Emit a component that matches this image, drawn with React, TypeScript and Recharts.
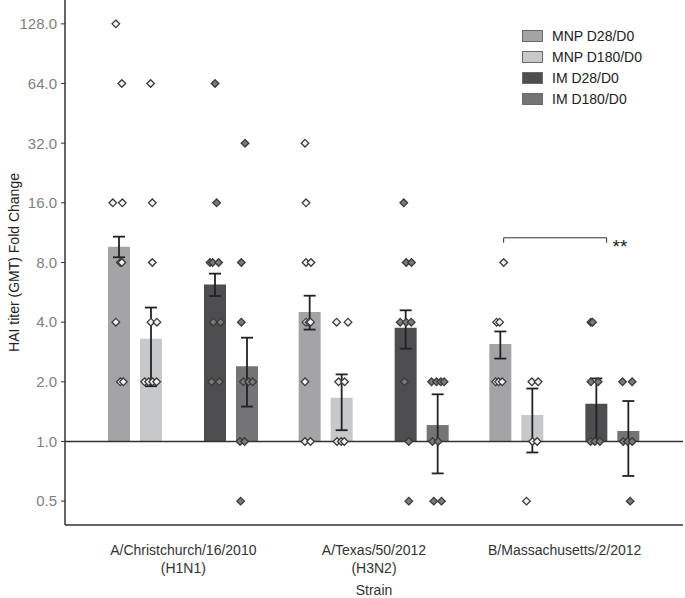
import {
  Bar,
  ComposedChart,
  ErrorBar,
  Legend,
  ReferenceDot,
  ReferenceLine,
  Scatter,
  XAxis,
  YAxis,
} from 'recharts';

// '|' splits a tick label over two lines
const strains = ['A/Christchurch/16/2010|(H1N1)', 'A/Texas/50/2012|(H3N2)', 'B/Massachusetts/2/2012'];
const yTicks = [0.5, 1, 2, 4, 8, 16, 32, 64, 128];

// GMT fold change per strain, with lower / upper end of the error bar
const mnpD28 = [9.6, 4.5, 3.1];
const mnpD28Lo = [8.5, 3.67, 2.62];
const mnpD28Hi = [10.8, 5.44, 3.59];

const mnpD180 = [3.3, 1.66, 1.36];
const mnpD180Lo = [1.9, 1.14, 0.88];
const mnpD180Hi = [4.74, 2.18, 1.85];

const imD28 = [6.2, 3.75, 1.55];
const imD28Lo = [5.42, 2.94, 1.0];
const imD28Hi = [7.03, 4.59, 2.08];

const imD180 = [2.4, 1.21, 1.13];
const imD180Lo = [1.5, 0.69, 0.67];
const imD180Hi = [3.34, 1.73, 1.6];

// individual subjects: [fold change, jitter px from the bar centre]
const mnpD28Pts = [
  [[128, -3.5], [64, 2.5], [16, -6.5], [16, 3], [8, 1], [8, 2.5], [4, -3.5], [2, 1], [2, 4]],
  [[32, -5], [16, -4], [8, -4], [8, 1], [4, -4], [4, -1], [4, 0.5], [2, -5], [1, -5], [1, 0.5]],
  [[8, 3], [4, -4], [4, -1], [2, -5], [2, -2], [2, 1.5]],
];
const mnpD180Pts = [
  [[64, -0.7], [16, 1], [8, 1], [4, -0.4], [4, 5.6], [2, -6.7], [2, -2.7], [2, 1.3], [2, 5.3]],
  [[4, -5.4], [4, 6], [2, -3.4], [2, 2.6], [1, -5], [1, -0.7], [1, 2.3]],
  [[2, -0.8], [2, 5.5], [1, -0.2], [1, 4.5], [0.5, -6.2]],
];
const imD28Pts = [
  [[64, -0.3], [16, 1.3], [8, -5.3], [8, -2.7], [8, 3.3], [4, -2], [4, 5.3], [2, -3.7], [2, 4]],
  [[16, -2.2], [8, 0.2], [8, 5.5], [4, -5.8], [4, 0.2], [4, 5.2], [2, -1.5], [1, 2.8], [0.5, 2.8]],
  [[4, -5.8], [4, -4.1], [2, -5.8], [2, 1.5], [1, -6.1], [1, -1.8], [1, 3.2]],
];
const imD180Pts = [
  [[32, -2.3], [8, -6], [4, -6], [2, -4], [2, 1.3], [2, 5.3], [1, -7.3], [1, -2.7], [0.5, -6.7]],
  [[2, -6.5], [2, -1.5], [2, 2.8], [2, 6.1], [1, -5.5], [1, 0.1], [0.5, -4.2], [0.5, 3.5]],
  [[2, -6.1], [2, 3.5], [1, -5.5], [1, -1.1], [1, 3.5], [0.5, 1.5]],
];

const series = [
  { key: 'mnpD28', name: 'MNP D28/D0', color: '#a4a4a6', dot: '#f2f2f2', slot: 0, mean: mnpD28, lo: mnpD28Lo, hi: mnpD28Hi, pts: mnpD28Pts },
  { key: 'mnpD180', name: 'MNP D180/D0', color: '#c7c8ca', dot: '#f2f2f2', slot: 1, mean: mnpD180, lo: mnpD180Lo, hi: mnpD180Hi, pts: mnpD180Pts },
  { key: 'imD28', name: 'IM D28/D0', color: '#4e4e50', dot: '#7a7a7a', slot: 3, mean: imD28, lo: imD28Lo, hi: imD28Hi, pts: imD28Pts },
  { key: 'imD180', name: 'IM D180/D0', color: '#747476', dot: '#7a7a7a', slot: 4, mean: imD180, lo: imD180Lo, hi: imD180Hi, pts: imD180Pts },
];

const BAND = 190.67; // px per strain
const PAD = 23;
const SLOT = 32 / BAND; // bar width + gap, in strain units

const rows = strains.map((strain, i) => {
  const r: Record<string, any> = { strain, gap: null };
  series.forEach((s) => {
    const m = Math.log2(s.mean[i]);
    r[s.key] = m;
    r[s.key + 'Err'] = [m - Math.log2(s.lo[i]), Math.log2(s.hi[i]) - m];
  });
  return r;
});

const points = (s: (typeof series)[number]) =>
  s.pts.flatMap((list, i) =>
    list.map(([v, j]) => ({ x: i + (s.slot - 2) * SLOT + j / BAND, y: Math.log2(v) }))
  );

const Diamond = (fill: string) => (p: any) => {
  const { cx, cy } = p;
  const r = 3.8;
  return (
    <polygon
      points={`${cx},${cy - r} ${cx + r},${cy} ${cx},${cy + r} ${cx - r},${cy}`}
      fill={fill}
      stroke="#3a3a3a"
      strokeWidth={1.3}
    />
  );
};

function StrainTick({ x, y, payload }: any) {
  const lines = String(payload.value).split('|');
  return (
    <text x={x} y={y} textAnchor="middle" fill="#333" fontSize={14}>
      {lines.map((l, k) => (
        <tspan key={k} x={x} dy={k === 0 ? 22 : 18}>
          {l}
        </tspan>
      ))}
    </text>
  );
}

function YLabel({ viewBox }: any) {
  const cx = 14;
  const cy = viewBox.y + viewBox.height / 2;
  return (
    <text
      x={cx}
      y={cy}
      transform={`rotate(-90, ${cx}, ${cy})`}
      textAnchor="middle"
      dominantBaseline="central"
      fill="#222"
      fontSize={14}
    >
      HAI titer (GMT) Fold Change
    </text>
  );
}

function LegendBox() {
  return (
    <div>
      {series.map((s) => (
        <div key={s.key} style={{ display: 'flex', alignItems: 'center', height: 21 }}>
          <span
            style={{
              width: 19,
              height: 10,
              background: s.color,
              border: '1px solid #6a6a6a',
              display: 'inline-block',
            }}
          />
          <span style={{ marginLeft: 9, fontSize: 14, color: '#222' }}>{s.name}</span>
        </div>
      ))}
    </div>
  );
}

export default function App() {
  return (
    <div style={{ position: 'absolute', left: 0, top: 0, fontFamily: '"Liberation Sans", Arial, sans-serif' }}>
      <ComposedChart
        width={685}
        height={598}
        data={rows}
        margin={{ top: 0, right: 2, bottom: 0, left: 0 }}
        barGap={10}
      >
        <XAxis
          xAxisId="cat"
          dataKey="strain"
          padding={{ left: PAD, right: PAD }}
          height={73}
          interval={0}
          tickLine={false}
          axisLine={{ stroke: '#333', strokeWidth: 1.5 }}
          tick={<StrainTick />}
          label={{ value: 'Strain', position: 'insideBottom', offset: 3, fill: '#333', fontSize: 14 }}
        />
        <XAxis
          xAxisId="num"
          type="number"
          dataKey="x"
          domain={[-0.5 - PAD / BAND, 2.5 + PAD / BAND]}
          allowDataOverflow
          hide
        />
        <YAxis
          type="number"
          domain={[-1.4, 7.4]}
          ticks={yTicks.map((t) => Math.log2(t))}
          tickFormatter={(v: number) => Math.pow(2, v).toFixed(1)}
          allowDataOverflow
          width={65}
          tickSize={4}
          tickMargin={4}
          tick={{ fill: '#7f7f7f', fontSize: 15 }}
          tickLine={{ stroke: '#333' }}
          axisLine={{ stroke: '#333', strokeWidth: 1.5 }}
          label={<YLabel />}
        />
        {/* middle/center keeps the legend from taking space off the plot */}
        <Legend
          layout="horizontal"
          verticalAlign="middle"
          align="center"
          content={<LegendBox />}
          wrapperStyle={{ top: 25, left: 522, width: 'auto' }}
        />
        {series.slice(0, 2).map((s) => (
          <Bar key={s.key} xAxisId="cat" dataKey={s.key} fill={s.color} barSize={22} isAnimationActive={false}>
            <ErrorBar dataKey={s.key + 'Err'} width={6} stroke="#222" strokeWidth={1.8} direction="y" />
          </Bar>
        ))}
        <Bar xAxisId="cat" dataKey="gap" fill="none" barSize={22} isAnimationActive={false} legendType="none" />
        {series.slice(2).map((s) => (
          <Bar key={s.key} xAxisId="cat" dataKey={s.key} fill={s.color} barSize={22} isAnimationActive={false}>
            <ErrorBar dataKey={s.key + 'Err'} width={6} stroke="#222" strokeWidth={1.8} direction="y" />
          </Bar>
        ))}
        <ReferenceLine xAxisId="num" y={0} stroke="#333" strokeWidth={1.5} />
        {series.map((s) => (
          <Scatter
            key={s.key + 'pts'}
            xAxisId="num"
            data={points(s)}
            dataKey="y"
            shape={Diamond(s.dot)}
            isAnimationActive={false}
            legendType="none"
          />
        ))}
        {/* significance bracket, MNP D28 vs IM D28 for B/Massachusetts */}
        <ReferenceLine xAxisId="num" segment={[{ x: 1.68, y: 3.414 }, { x: 2.22, y: 3.414 }]} stroke="#333" ifOverflow="visible" />
        <ReferenceLine xAxisId="num" segment={[{ x: 1.68, y: 3.414 }, { x: 1.68, y: 3.33 }]} stroke="#333" ifOverflow="visible" />
        <ReferenceLine xAxisId="num" segment={[{ x: 2.22, y: 3.414 }, { x: 2.22, y: 3.33 }]} stroke="#333" ifOverflow="visible" />
        <ReferenceDot
          xAxisId="num"
          x={2.29}
          y={3.28}
          r={0}
          stroke="none"
          label={{ value: '**', position: 'center', fill: '#222', fontSize: 19 }}
        />
      </ComposedChart>
    </div>
  );
}
